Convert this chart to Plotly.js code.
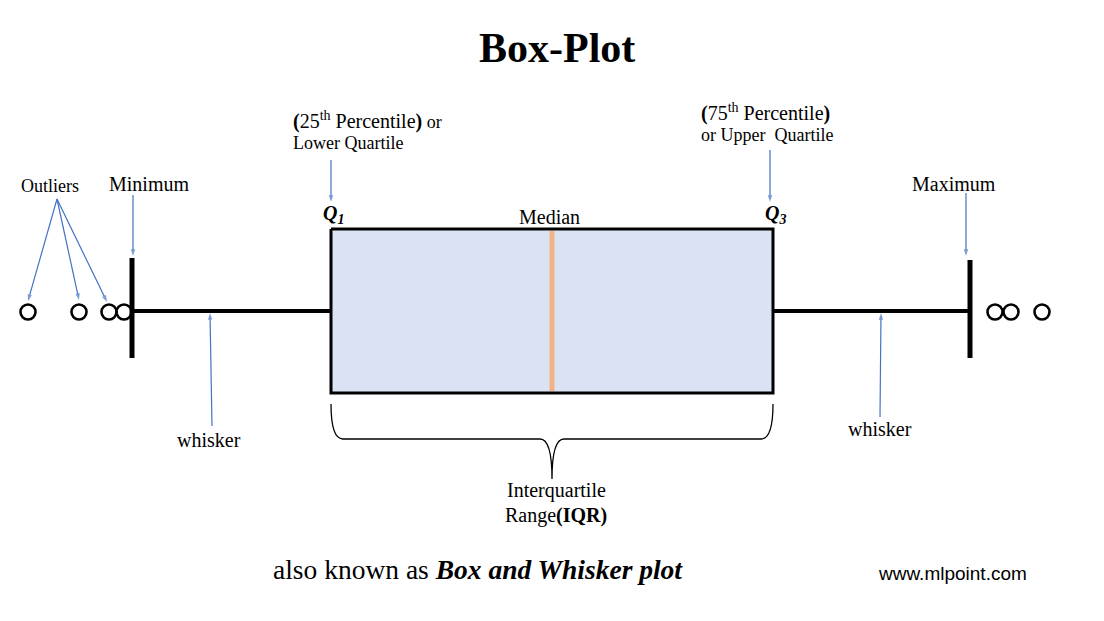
<!DOCTYPE html>
<html>
<head>
<meta charset="utf-8">
<script src="https://cdn.plot.ly/plotly-3.0.1.min.js"></script>
<style>html,body{margin:0;padding:0;background:#fff;}#chart{width:1104px;height:621px;}</style>
</head>
<body>
<div id="chart"></div>
<script>
// ---- data (values on the diagram's horizontal scale) ----
const statNames = ['Minimum', 'Q1', 'Median', 'Q3', 'Maximum'];
const statValues = [132, 331, 552, 773, 970];
const outliersLow = [28, 79, 109, 124];
const outliersHigh = [995, 1011, 1042];

const [vMin, vQ1, vMed, vQ3, vMax] = statValues;

// ---- layout geometry (vertical positions on the hidden y scale) ----
const yMid = 311, yBoxTop = 229, yBoxBot = 393, yCapTop = 258, yCapBot = 358;
const black = '#000000', blue = '#4472c4', fill = '#dae3f3', orange = '#f4b183';
const serif = 'Liberation Serif';

const traces = [
  { x: [vQ1, vQ3, vQ3, vQ1, vQ1], y: [yBoxTop, yBoxTop, yBoxBot, yBoxBot, yBoxTop],
    mode: 'lines', fill: 'toself', fillcolor: fill, line: { color: black, width: 3 } },
  { x: [vMed, vMed], y: [yBoxTop + 2, yBoxBot - 2], mode: 'lines', line: { color: orange, width: 5 } },
  { x: [vMin, vQ1], y: [yMid, yMid], mode: 'lines', line: { color: black, width: 4 } },
  { x: [vQ3, vMax], y: [yMid, yMid], mode: 'lines', line: { color: black, width: 4 } },
  { x: [vMin, vMin], y: [yCapTop, yCapBot], mode: 'lines', line: { color: black, width: 5 } },
  { x: [vMax, vMax], y: [yCapTop + 2, yCapBot], mode: 'lines', line: { color: black, width: 5 } },
  { x: outliersLow.concat(outliersHigh), y: outliersLow.concat(outliersHigh).map(() => yMid + 1),
    mode: 'markers', marker: { symbol: 'circle-open', size: 15, color: black, line: { width: 2.6, color: black } } }
];

// blue pointer arrows drawn as line traces ending in an arrow marker
function arrowTrace(tailX, tailY, headX, headY) {
  return { x: [tailX, headX], y: [tailY, headY], mode: 'lines+markers',
    line: { color: blue, width: 1.2 },
    marker: { symbol: ['circle', 'arrow'], size: [0, 7], angleref: 'previous', color: blue, line: { width: 0 } } };
}
traces.push(
  arrowTrace(57, 199, outliersLow[0], 301),
  arrowTrace(57, 199, outliersLow[1], 300),
  arrowTrace(57, 199, outliersLow[2] - 2, 302),
  arrowTrace(vMin + 1, 195, vMin + 1, 256),
  arrowTrace(vMax - 4, 193, vMax - 4, 256),
  arrowTrace(vQ1, 160, vQ1, 202),
  arrowTrace(vQ3 - 3, 150, vQ3 - 3, 202),
  arrowTrace(212, 426, 210, 313),
  arrowTrace(880, 417, 881, 313)
);

function txt(x, y, text, size, extra) {
  return Object.assign({ x: x, y: y, text: text, showarrow: false, xref: 'x', yref: 'y',
    font: { family: serif, size: size, color: black }, xanchor: 'center', yanchor: 'middle' }, extra || {});
}

const annotations = [
  txt(557, 48, '<b>Box-Plot</b>', 42),
  txt(291, 120, '<span style="font-size:20px"><b>(</b>25<sup>th</sup> Percentile<b>)</b></span> or', 18, { xanchor: 'left' }),
  txt(291, 143, 'Lower Quartile', 18, { xanchor: 'left' }),
  txt(699, 112, '<span style="font-size:20px"><b>(</b>75<sup>th</sup> Percentile<b>)</b></span>', 18, { xanchor: 'left' }),
  txt(699, 135, 'or Upper  Quartile', 18, { xanchor: 'left' }),
  txt(50, 186, 'Outliers', 18),
  txt(149, 184, statNames[0], 20),
  txt(954, 184, statNames[4], 20),
  txt(vQ1 + 2, 214, '<b><i>Q<sub>1</sub></i></b>', 20),
  txt(vMed - 3, 217, statNames[2], 20),
  txt(vQ3 + 2, 214, '<b><i>Q<sub>3</sub></i></b>', 20),
  txt(209, 440, 'whisker', 20),
  txt(880, 429, 'whisker', 20),
  txt(vMed + 4, 490, 'Interquartile', 20),
  txt(vMed + 4, 515, 'Range<b>(IQR)</b>', 20),
  txt(478, 569, 'also known as <b><i>Box and Whisker plot</i></b>', 27.5),
  txt(952, 573, 'www.mlpoint.com', 19, { font: { family: 'Liberation Sans', size: 19, color: black } })
];

// curly brace spanning the IQR
const bTop = 404, bMid = 439, bTip = 479, r = 12;
const bracePath = `M${vQ1},${bTop} Q${vQ1},${bMid} ${vQ1 + r},${bMid} L${vMed - r},${bMid} ` +
  `Q${vMed},${bMid} ${vMed},${bTip} Q${vMed},${bMid} ${vMed + r},${bMid} L${vQ3 - r},${bMid} ` +
  `Q${vQ3},${bMid} ${vQ3},${bTop}`;

const layout = {
  width: 1104, height: 621, margin: { l: 0, r: 0, t: 0, b: 0 },
  paper_bgcolor: '#ffffff', plot_bgcolor: '#ffffff', showlegend: false,
  xaxis: { range: [0, 1104], visible: false, fixedrange: true },
  yaxis: { range: [621, 0], visible: false, fixedrange: true },
  annotations: annotations,
  shapes: [{ type: 'path', path: bracePath, xref: 'x', yref: 'y', line: { color: black, width: 1.3 } }]
};

Plotly.newPlot('chart', traces, layout, { displayModeBar: false, staticPlot: true });
</script>
</body>
</html>
